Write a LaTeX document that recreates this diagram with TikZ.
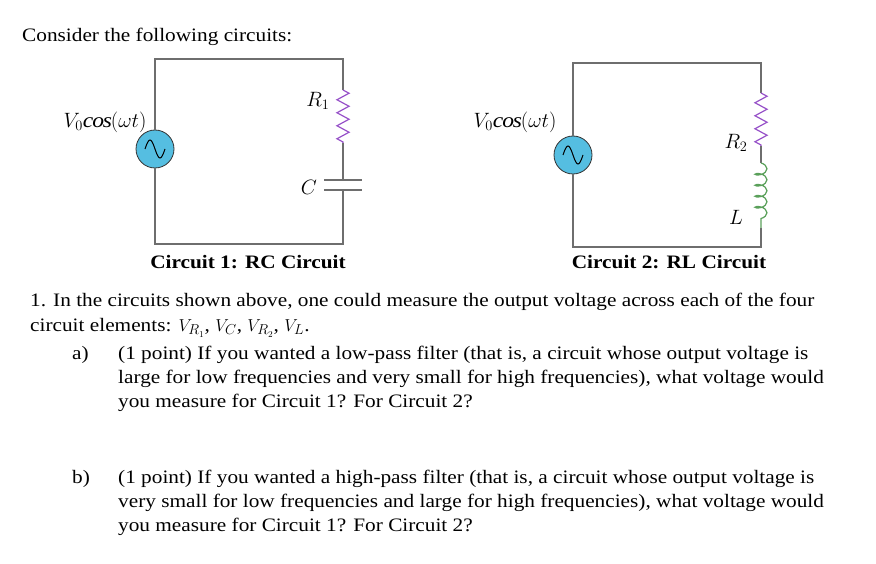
\documentclass[tikz,border=0pt]{standalone}
\usepackage{fontspec}
\setmainfont{Liberation Serif}[FakeStretch=1.12]
\usepackage{amsmath}
\usetikzlibrary{decorations.pathmorphing}
\definecolor{wire}{RGB}{110,110,110}
\definecolor{srcblue}{RGB}{85,190,225}
\definecolor{respurple}{RGB}{150,80,200}
\definecolor{indgreen}{RGB}{90,160,90}
\begin{document}
\begin{tikzpicture}[x=1pt,y=-1pt,
  wirestyle/.style={draw=wire,line width=1.6pt},
  srcnode/.style={circle,draw=black!80,fill=srcblue,line width=0.8pt,minimum size=38pt,inner sep=0pt},
  reszig/.style={draw=respurple,line width=1.2pt,decoration={zigzag,segment length=13pt,amplitude=6pt},decorate},
  ctext/.style={font=\fontsize{19}{22}\selectfont,anchor=base west,inner sep=0pt},
  caption/.style={font=\fontsize{19}{22}\selectfont\bfseries,anchor=base,inner sep=0pt},
  lbl/.style={font=\fontsize{21}{24}\selectfont,inner sep=0pt}]
\useasboundingbox (0,0) rectangle (876,564);
\node[ctext] (title) at (22,42) {Consider the following circuits:};
% circuit 1
\coordinate (a1) at (155,59); \coordinate (b1) at (343,59);
\coordinate (c1) at (343,244); \coordinate (d1) at (155,244);
\node[srcnode] (s1) at (155,149) {};
\draw[line width=1pt] ([xshift=-10pt]s1.center) .. controls +(4,-12) and +(-4,-12) .. (s1.center) .. controls +(4,12) and +(-4,12) .. ([xshift=10pt]s1.center);
\coordinate (r1t) at (343,90); \coordinate (r1b) at (343,143);
\coordinate (cp1) at (343,180); \coordinate (cp2) at (343,190);
\draw[wirestyle] (s1.north) -- (a1) -- (b1) -- (r1t);
\draw[reszig] (r1t) -- (r1b);
\draw[wirestyle] (r1b) -- (cp1);
\draw[wirestyle] (cp1 -| 324,0) -- (cp1 -| 362,0);
\draw[wirestyle] (cp2 -| 324,0) -- (cp2 -| 362,0);
\draw[wirestyle] (cp2) -- (c1) -- (d1) -- (s1.south);
\node[lbl] (lr1) at (318,101) {$R_1$};
\node[lbl] (lc) at (309,187) {$C$};
\node[lbl] (lv1) at (105,122) {$V_0\mathit{cos}(\omega t)$};
\node[caption] (cap1) at (248,269) {Circuit 1: RC Circuit};
% circuit 2
\coordinate (a2) at (573,63); \coordinate (b2) at (761,63);
\coordinate (c2) at (761,247); \coordinate (d2) at (573,247);
\node[srcnode] (s2) at (573,155) {};
\draw[line width=1pt] ([xshift=-10pt]s2.center) .. controls +(4,-12) and +(-4,-12) .. (s2.center) .. controls +(4,12) and +(-4,12) .. ([xshift=10pt]s2.center);
\coordinate (r2t) at (761,93); \coordinate (r2b) at (761,146);
\coordinate (l2t) at (761,163); \coordinate (l2b) at (761,228);
\draw[wirestyle] (s2.north) -- (a2) -- (b2) -- (r2t);
\draw[reszig] (r2t) -- (r2b);
\draw[wirestyle] (r2b) -- (l2t);
\draw[draw=indgreen,line width=1.2pt,decoration={coil,segment length=11pt,amplitude=6pt,aspect=0.5},decorate] (l2t) -- (l2b);
\draw[wirestyle] (l2b) -- (c2) -- (d2) -- (s2.south);
\node[lbl] (lr2) at (736,143) {$R_2$};
\node[lbl] (ll) at (736,217) {$L$};
\node[lbl] (lv2) at (515,122) {$V_0\mathit{cos}(\omega t)$};
\node[caption] (cap2) at (669,269) {Circuit 2: RL Circuit};
% text
\node[ctext] (t1) at (30,306) {1. In the circuits shown above, one could measure the output voltage across each of the four};
\node[ctext] (t2) at (30,331) {circuit elements: $V_{R_1}$, $V_C$, $V_{R_2}$, $V_L$.};
\node[ctext] (pa) at (72,359) {a)};
\node[ctext] (a1t) at (118,359) {(1 point) If you wanted a low-pass filter (that is, a circuit whose output voltage is};
\node[ctext] (a2t) at (118,383) {large for low frequencies and very small for high frequencies), what voltage would};
\node[ctext] (a3t) at (118,407) {you measure for Circuit 1? For Circuit 2?};
\node[ctext] (pb) at (72,483) {b)};
\node[ctext] (b1t) at (118,483) {(1 point) If you wanted a high-pass filter (that is, a circuit whose output voltage is};
\node[ctext] (b2t) at (118,507) {very small for low frequencies and large for high frequencies), what voltage would};
\node[ctext] (b3t) at (118,531) {you measure for Circuit 1? For Circuit 2?};
\end{tikzpicture}
\end{document}
